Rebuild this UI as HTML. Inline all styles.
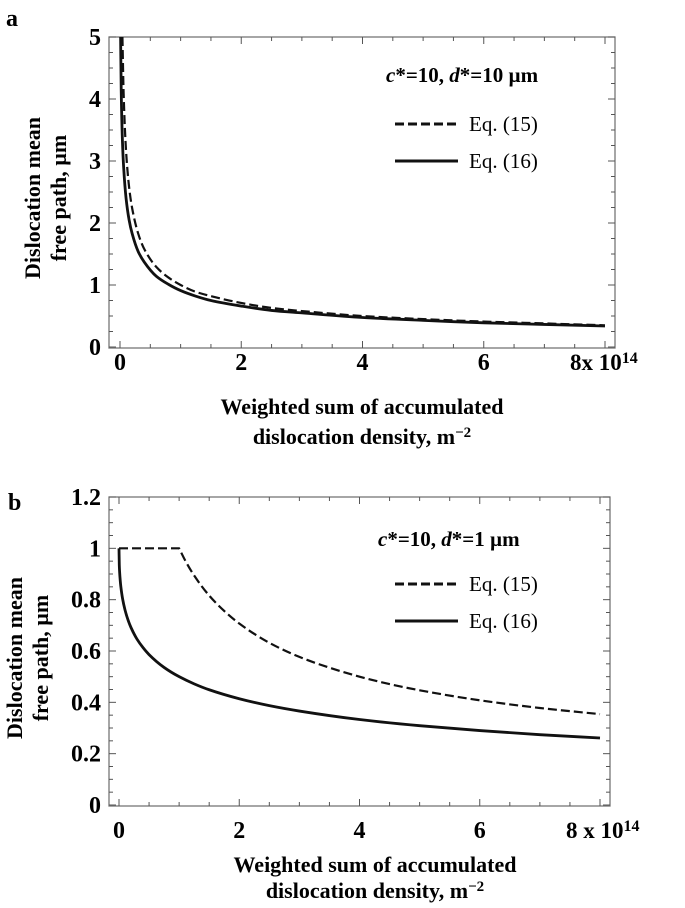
<!DOCTYPE html>
<html><head><meta charset="utf-8"><style>
html,body{margin:0;padding:0;background:#fff;}
svg{display:block;font-family:"Liberation Serif",serif;}
</style></head><body>
<svg id="fig" width="685" height="908" viewBox="0 0 685 908"></svg>
<script>
// ---- Panel a data ----
const aXTicks=[0,2,4,6];
const aYTicks=[0,1,2,3,4,5];
const aEq15X=[0.04,0.06,0.1,0.15,0.2,0.3,0.4,0.6,0.8,1,1.25,1.5,2,2.5,3,4,5,6,7,8];
const aEq15Y=[5,4.08,3.16,2.58,2.24,1.83,1.58,1.29,1.12,1,0.89,0.82,0.71,0.63,0.58,0.5,0.45,0.41,0.38,0.35];
const aEq16X=[0.01,0.02,0.04,0.06,0.1,0.15,0.2,0.3,0.4,0.6,0.8,1,1.25,1.5,2,2.5,3,4,5,6,7,8];
const aEq16Y=[5,4.14,3.33,2.9,2.4,2.05,1.83,1.54,1.37,1.14,1.01,0.91,0.82,0.75,0.66,0.59,0.55,0.476,0.43,0.39,0.364,0.339];
// ---- Panel b data ----
const bXTicks=[0,2,4,6];
const bYTicks=[0,0.2,0.4,0.6,0.8,1,1.2];
const bYTickLabels=["0","0.2","0.4","0.6","0.8","1","1.2"];
const bEq15X=[0,1,1.1,1.25,1.5,1.75,2,2.5,3,3.5,4,4.5,5,6,7,8];
const bEq15Y=[1,1,0.953,0.894,0.816,0.756,0.707,0.632,0.577,0.535,0.5,0.471,0.447,0.408,0.378,0.354];
const bEq16X=[0,0.005,0.01,0.02,0.03,0.06,0.1,0.15,0.2,0.3,0.4,0.5,0.75,1,1.25,1.5,2,2.5,3,4,5,6,7,8];
const bEq16Y=[1,0.934,0.909,0.876,0.852,0.803,0.76,0.721,0.691,0.646,0.613,0.586,0.536,0.5,0.472,0.449,0.414,0.387,0.366,0.333,0.309,0.29,0.274,0.261];

const NS="http://www.w3.org/2000/svg";
const svg=document.getElementById('fig');
function mk(tag,attrs,parent){const e=document.createElementNS(NS,tag);for(const k in attrs)e.setAttribute(k,attrs[k]);(parent||svg).appendChild(e);return e;}

// monotone cubic (Fritsch-Carlson) path, pts sorted by x
function monoPath(pts,noMove){
  const n=pts.length;const dx=[],m=[],t=new Array(n);
  for(let i=0;i<n-1;i++){dx[i]=pts[i+1][0]-pts[i][0];m[i]=(pts[i+1][1]-pts[i][1])/dx[i];}
  t[0]=m[0];t[n-1]=m[n-2];
  for(let i=1;i<n-1;i++){t[i]=(m[i-1]*m[i]<=0)?0:(dx[i-1]+dx[i])*3/((2*dx[i]+dx[i-1])/m[i-1]+(dx[i]+2*dx[i-1])/m[i]);}
  let d=noMove?'':'M'+pts[0][0].toFixed(2)+','+pts[0][1].toFixed(2);
  for(let i=0;i<n-1;i++){
    const h=dx[i]/3;
    d+='C'+(pts[i][0]+h).toFixed(2)+','+(pts[i][1]+t[i]*h).toFixed(2)+' '+(pts[i+1][0]-h).toFixed(2)+','+(pts[i+1][1]-t[i+1]*h).toFixed(2)+' '+pts[i+1][0].toFixed(2)+','+pts[i+1][1].toFixed(2);
  }
  return d;
}

function panel(o){
  const g=mk('g',{});
  
  
  const sx=v=>o.x0+v*(o.x8-o.x0)/8;
  const sy=v=>o.yb+v*(o.yTop-o.yb)/o.ymax;
  const cid='clip-'+o.id;
  const defs=mk('defs',{},g);const cp=mk('clipPath',{id:cid},defs);
  mk('rect',{x:o.L,y:o.T,width:o.R-o.L,height:o.B-o.T},cp);
  const box=mk('rect',{x:o.L,y:o.T,width:o.R-o.L,height:o.B-o.T,fill:'none',stroke:'#777','stroke-width':1.3},g);
  
  
  for(let v=0;v<=8.001;v+=0.5){
    const X=sx(v);const big=Math.abs(v/2-Math.round(v/2))<1e-6;const len=big?7:4;
    mk('line',{x1:X,y1:o.B,x2:X,y2:o.B-len,stroke:'#555','stroke-width':1},g);
    mk('line',{x1:X,y1:o.T,x2:X,y2:o.T+len,stroke:'#555','stroke-width':1},g);
  }
  for(let v=0;v<=o.ymax+1e-6;v+=o.yminor){
    const Y=sy(v);const big=Math.abs(v/o.ymajor-Math.round(v/o.ymajor))<1e-6;const len=big?7:4;
    mk('line',{x1:o.L,y1:Y,x2:o.L+len,y2:Y,stroke:'#555','stroke-width':1},g);
    mk('line',{x1:o.R,y1:Y,x2:o.R-len,y2:Y,stroke:'#555','stroke-width':1},g);
  }
  o.xt.forEach(v=>{const t=mk('text',{x:sx(v),y:o.xly,'text-anchor':'middle','font-size':24,'font-weight':'bold'},g);t.textContent=v;
    });
  const e8=mk('text',{x:o.e8x,y:o.xly,'font-size':23,'font-weight':'bold'},g);
  
  e8.innerHTML=o.e8txt+'<tspan dy="-7" font-size="16">14</tspan>';
  o.yticks.forEach((v,i)=>{const t=mk('text',{x:o.L-8,y:sy(v)+8,'text-anchor':'end','font-size':24,'font-weight':'bold'},g);t.textContent=o.ylab?o.ylab[i]:v;
    });
  function line(xs,ys,dash,name,sharp){
    const pts=xs.map((x,i)=>[sx(x),Math.max(o.T-20,sy(ys[i]))]);
    let d;
    if(sharp!=null){
      d='M'+pts[0][0]+','+pts[0][1]+'L'+pts[sharp][0]+','+pts[sharp][1]+monoPath(pts.slice(sharp),true);
    } else d=monoPath(pts,false);
    const p=mk('path',{d:d,fill:'none',stroke:'#111','stroke-width':dash?2.2:2.8,'stroke-dasharray':dash?'9,4':'none','clip-path':'url(#'+cid+')','stroke-linejoin':'round'},g);
    
  }
  line(o.s15x,o.s15y,true,'eq15-dashed-line',o.sharp15);
  line(o.s16x,o.s16y,false,'eq16-solid-line',null);
  const lt=mk('text',{x:o.legX,y:o.legY,'font-size':21,'font-weight':'bold'},g);
  
  lt.innerHTML='<tspan font-style="italic">c</tspan>*=10, <tspan font-style="italic">d</tspan>*='+o.dval+' µm';
  [[o.l15y,true,'Eq. (15)'],[o.l16y,false,'Eq. (16)']].forEach(([y,dash,txt])=>{
    const ge=mk('g',{},g);
    mk('line',{x1:395,y1:y,x2:458,y2:y,stroke:'#111','stroke-width':3,'stroke-dasharray':dash?'9,4':'none'},ge);
    const t=mk('text',{x:469,y:y+7,'font-size':21},ge);t.textContent=txt;
  });
  const yt=mk('text',{transform:'translate('+o.ytx+','+o.yty+') rotate(-90)','text-anchor':'middle','font-size':22,'font-weight':'bold'},g);
  
  yt.innerHTML='<tspan x="0" y="0">Dislocation mean</tspan><tspan x="0" y="26">free path, µm</tspan>';
  const xt=mk('text',{'text-anchor':'middle','font-size':22,'font-weight':'bold'},g);
  
  xt.innerHTML='<tspan x="'+o.xtx+'" y="'+o.xty1+'">Weighted sum of accumulated</tspan><tspan x="'+o.xtx+'" y="'+o.xty2+'">dislocation density, m<tspan dy="-7" font-size="15">−2</tspan></tspan>';
  const pl=mk('text',{x:o.plx,y:o.ply,'font-size':24,'font-weight':'bold'},g);pl.textContent=o.id;
  
}
panel({id:'a',L:109,R:615,T:37,B:348,x0:120,x8:605,yb:347,yTop:37,ymax:5,yminor:0.25,ymajor:1,
  xt:aXTicks,yticks:aYTicks,xly:370,e8x:570,e8txt:'8x 10',s15x:aEq15X,s15y:aEq15Y,s16x:aEq16X,s16y:aEq16Y,sharp15:null,
  legX:386,legY:82,dval:'10',l15y:124,l16y:161,ytx:40,yty:198,xtx:362,xty1:414,xty2:444,plx:6,ply:26});
panel({id:'b',L:109,R:610,T:497,B:806,x0:119,x8:600,yb:805,yTop:497,ymax:1.2,yminor:0.05,ymajor:0.2,
  xt:bXTicks,yticks:bYTicks,ylab:bYTickLabels,xly:838,e8x:566,e8txt:'8 x 10',s15x:bEq15X,s15y:bEq15Y,s16x:bEq16X,s16y:bEq16Y,sharp15:1,
  legX:378,legY:546,dval:'1',l15y:584,l16y:621,ytx:22,yty:658,xtx:375,xty1:872,xty2:898,plx:8,ply:510});
</script>
</body></html>
